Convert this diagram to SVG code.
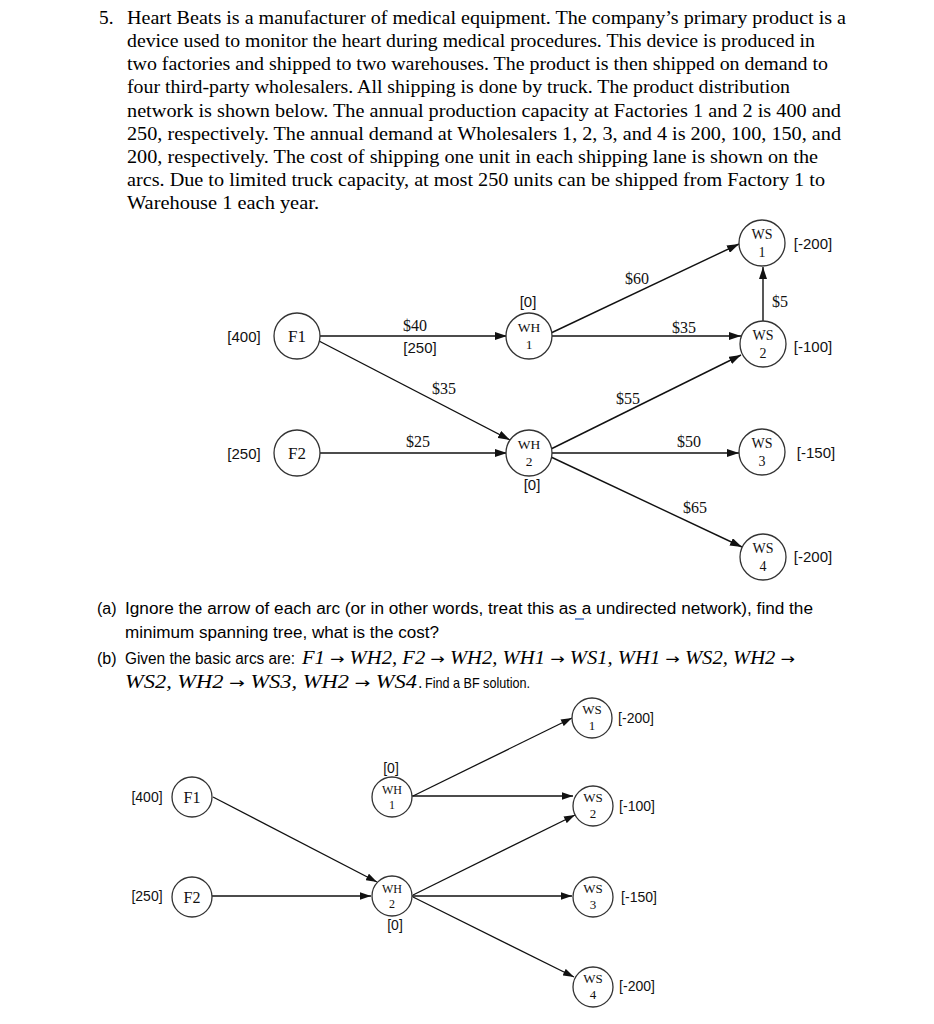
<svg xmlns="http://www.w3.org/2000/svg" width="934" height="1024" viewBox="0 0 934 1024">
<style>
.q{font-family:"Liberation Serif","Times New Roman",serif;font-size:19.3px;fill:#000}
.s{font-family:"Liberation Sans",Arial,sans-serif;font-size:16px;fill:#000}
.m{font-family:"Liberation Serif","Times New Roman",serif;font-size:18px;font-style:italic;fill:#000}
.ar{font-family:"DejaVu Sans",sans-serif;font-style:normal;font-size:15px}
.nd{fill:#fff;stroke:#333;stroke-width:1.3}
.nt{font-family:"Liberation Serif","Times New Roman",serif;fill:#111;text-anchor:middle}
.br{font-family:"Liberation Sans",Arial,sans-serif;fill:#111;text-anchor:middle}
.cost{font-family:"Liberation Serif","Times New Roman",serif;font-size:16px;fill:#111;text-anchor:middle}
.e{stroke:#111;stroke-width:1.4;fill:none;marker-end:url(#ah)}
.e2{stroke:#111;stroke-width:1.3;fill:none;marker-end:url(#ah2)}
</style>
<defs>
<marker id="ah" viewBox="0 0 12 8" refX="12" refY="4" markerWidth="12" markerHeight="8" orient="auto" markerUnits="userSpaceOnUse"><path d="M0,0 L12,4 L0,8 z" fill="#111"/></marker>
<marker id="ah2" viewBox="0 0 12 8" refX="12" refY="4" markerWidth="11" markerHeight="7.5" orient="auto" markerUnits="userSpaceOnUse"><path d="M0,0 L12,4 L0,8 z" fill="#111"/></marker>
</defs>
<rect width="934" height="1024" fill="#fff"/>

<g id="problem-text">
<text class="q" x="99" y="24">5.</text>
<text class="q" x="127" y="24" textLength="719" lengthAdjust="spacingAndGlyphs">Heart Beats is a manufacturer of medical equipment. The company’s primary product is a</text>
<text class="q" x="127" y="47.1" textLength="688" lengthAdjust="spacingAndGlyphs">device used to monitor the heart during medical procedures. This device is produced in</text>
<text class="q" x="127" y="70.3" textLength="701" lengthAdjust="spacingAndGlyphs">two factories and shipped to two warehouses. The product is then shipped on demand to</text>
<text class="q" x="127" y="93.4" textLength="663" lengthAdjust="spacingAndGlyphs">four third-party wholesalers. All shipping is done by truck. The product distribution</text>
<text class="q" x="127" y="116.5" textLength="714" lengthAdjust="spacingAndGlyphs">network is shown below. The annual production capacity at Factories 1 and 2 is 400 and</text>
<text class="q" x="127" y="139.6" textLength="714" lengthAdjust="spacingAndGlyphs">250, respectively. The annual demand at Wholesalers 1, 2, 3, and 4 is 200, 100, 150, and</text>
<text class="q" x="127" y="162.8" textLength="691" lengthAdjust="spacingAndGlyphs">200, respectively. The cost of shipping one unit in each shipping lane is shown on the</text>
<text class="q" x="127" y="185.9" textLength="698" lengthAdjust="spacingAndGlyphs">arcs. Due to limited truck capacity, at most 250 units can be shipped from Factory 1 to</text>
<text class="q" x="127" y="209" textLength="192" lengthAdjust="spacingAndGlyphs">Warehouse 1 each year.</text>
</g>

<g id="network1-connectors">
<line class="e" x1="320" y1="336" x2="507" y2="336"/>
<line class="e" x1="319" y1="341" x2="510" y2="440"/>
<line class="e" x1="320" y1="453" x2="507" y2="453"/>
<line class="e" x1="551" y1="333" x2="739" y2="244"/>
<line class="e" x1="552" y1="336" x2="741" y2="336"/>
<line class="e" x1="763" y1="321" x2="763" y2="267"/>
<line class="e" x1="551" y1="449" x2="741" y2="355"/>
<line class="e" x1="552" y1="453" x2="739" y2="453"/>
<line class="e" x1="551" y1="457" x2="742" y2="547"/>
</g>
<g id="network1-costs">
<text class="cost" x="415" y="331">$40</text>
<text class="br" style="font-size:15px" x="420" y="353">[250]</text>
<text class="cost" x="444" y="394">$35</text>
<text class="cost" x="418" y="447">$25</text>
<text class="cost" x="637" y="284">$60</text>
<text class="cost" x="684" y="333">$35</text>
<text class="cost" x="780" y="307">$5</text>
<text class="cost" x="628" y="404">$55</text>
<text class="cost" x="689" y="447">$50</text>
<text class="cost" x="695" y="513">$65</text>
</g>
<g id="n1-F1">
<circle class="nd" cx="297" cy="336" r="23"/>
<text class="nt" style="font-size:17px" x="297" y="342">F1</text>
<text class="br" style="font-size:15px" x="244" y="342">[400]</text>
</g>
<g id="n1-F2">
<circle class="nd" cx="297" cy="453" r="23"/>
<text class="nt" style="font-size:17px" x="297" y="459">F2</text>
<text class="br" style="font-size:15px" x="244" y="459">[250]</text>
</g>
<g id="n1-WH1">
<circle class="nd" cx="529" cy="336" r="23"/>
<text class="nt" style="font-size:13.5px" x="529" y="332">WH</text>
<text class="nt" style="font-size:13.5px" x="529" y="349">1</text>
<text class="br" style="font-size:15px" x="528" y="307">[0]</text>
</g>
<g id="n1-WH2">
<circle class="nd" cx="529" cy="453" r="23"/>
<text class="nt" style="font-size:13.5px" x="529" y="449">WH</text>
<text class="nt" style="font-size:13.5px" x="529" y="466">2</text>
<text class="br" style="font-size:15px" x="532" y="490">[0]</text>
</g>
<g id="n1-WS1">
<circle class="nd" cx="762" cy="243" r="23"/>
<text class="nt" style="font-size:14px" x="762" y="239">WS</text>
<text class="nt" style="font-size:14px" x="762" y="257">1</text>
<text class="br" style="font-size:15px" x="813" y="249">[-200]</text>
</g>
<g id="n1-WS2">
<circle class="nd" cx="763" cy="344" r="23"/>
<text class="nt" style="font-size:14px" x="763" y="340">WS</text>
<text class="nt" style="font-size:14px" x="763" y="358">2</text>
<text class="br" style="font-size:15px" x="813" y="352">[-100]</text>
</g>
<g id="n1-WS3">
<circle class="nd" cx="762" cy="452" r="23"/>
<text class="nt" style="font-size:14px" x="762" y="448">WS</text>
<text class="nt" style="font-size:14px" x="762" y="466">3</text>
<text class="br" style="font-size:15px" x="816" y="458">[-150]</text>
</g>
<g id="n1-WS4">
<circle class="nd" cx="763" cy="557" r="23"/>
<text class="nt" style="font-size:14px" x="763" y="553">WS</text>
<text class="nt" style="font-size:14px" x="763" y="571">4</text>
<text class="br" style="font-size:15px" x="813" y="562">[-200]</text>
</g>

<g id="questions">
<text class="s" x="97" y="614">(a)</text>
<text class="s" x="125" y="614" textLength="688" lengthAdjust="spacingAndGlyphs">Ignore the arrow of each arc (or in other words, treat this as a undirected network), find the</text>
<line x1="575" y1="619" x2="584" y2="619" stroke="#4472c4" stroke-width="1.5"/>
<text class="s" x="125" y="638" textLength="314" lengthAdjust="spacingAndGlyphs">minimum spanning tree, what is the cost?</text>
<text class="s" x="97" y="664">(b)</text>
<text class="s" x="125" y="664" textLength="170" lengthAdjust="spacingAndGlyphs">Given the basic arcs are:</text>
<text class="m" x="302" y="664" textLength="493" lengthAdjust="spacingAndGlyphs">F1 <tspan class="ar">→</tspan> WH2, F2 <tspan class="ar">→</tspan> WH2, WH1 <tspan class="ar">→</tspan> WS1, WH1 <tspan class="ar">→</tspan> WS2, WH2 <tspan class="ar">→</tspan></text>
<text class="m" x="125" y="688" textLength="292" lengthAdjust="spacingAndGlyphs">WS2, WH2 <tspan class="ar">→</tspan> WS3, WH2 <tspan class="ar">→</tspan> WS4</text>
<text class="s" x="418" y="688">.</text>
<text class="s" style="font-size:15px" x="425" y="688" textLength="105" lengthAdjust="spacingAndGlyphs">Find a BF solution.</text>
</g>

<g id="network2-connectors">
<line class="e2" x1="213" y1="797" x2="377" y2="882"/>
<line class="e2" x1="212" y1="896" x2="371" y2="896"/>
<line class="e2" x1="413" y1="796" x2="572" y2="718"/>
<line class="e2" x1="412" y1="796" x2="573" y2="796"/>
<line class="e2" x1="413" y1="895" x2="575" y2="815"/>
<line class="e2" x1="412" y1="896" x2="572" y2="896"/>
<line class="e2" x1="413" y1="897" x2="574" y2="977"/>
</g>
<g id="n2-F1">
<circle class="nd" cx="192" cy="797" r="20"/>
<text class="nt" style="font-size:16px" x="192" y="802.5">F1</text>
<text class="br" style="font-size:14px" x="147" y="802">[400]</text>
</g>
<g id="n2-F2">
<circle class="nd" cx="192" cy="897" r="20"/>
<text class="nt" style="font-size:16px" x="192" y="902.5">F2</text>
<text class="br" style="font-size:14px" x="147" y="901">[250]</text>
</g>
<g id="n2-WH1">
<circle class="nd" cx="392" cy="797" r="20"/>
<text class="nt" style="font-size:12px" x="392" y="794">WH</text>
<text class="nt" style="font-size:12px" x="392" y="809">1</text>
<text class="br" style="font-size:14px" x="391" y="773">[0]</text>
</g>
<g id="n2-WH2">
<circle class="nd" cx="392" cy="896" r="20"/>
<text class="nt" style="font-size:12px" x="392" y="893">WH</text>
<text class="nt" style="font-size:12px" x="392" y="908">2</text>
<text class="br" style="font-size:14px" x="395" y="930">[0]</text>
</g>
<g id="n2-WS1">
<circle class="nd" cx="592" cy="718" r="20"/>
<text class="nt" style="font-size:13px" x="592" y="714">WS</text>
<text class="nt" style="font-size:13px" x="592" y="729.5">1</text>
<text class="br" style="font-size:14px" x="636" y="723">[-200]</text>
</g>
<g id="n2-WS2">
<circle class="nd" cx="593" cy="806" r="20"/>
<text class="nt" style="font-size:13px" x="593" y="802">WS</text>
<text class="nt" style="font-size:13px" x="593" y="817.5">2</text>
<text class="br" style="font-size:14px" x="637" y="811">[-100]</text>
</g>
<g id="n2-WS3">
<circle class="nd" cx="593" cy="897" r="20"/>
<text class="nt" style="font-size:13px" x="593" y="893">WS</text>
<text class="nt" style="font-size:13px" x="593" y="908.5">3</text>
<text class="br" style="font-size:14px" x="639" y="902">[-150]</text>
</g>
<g id="n2-WS4">
<circle class="nd" cx="593" cy="987" r="20"/>
<text class="nt" style="font-size:13px" x="593" y="983">WS</text>
<text class="nt" style="font-size:13px" x="593" y="998.5">4</text>
<text class="br" style="font-size:14px" x="637" y="991">[-200]</text>
</g>
</svg>
